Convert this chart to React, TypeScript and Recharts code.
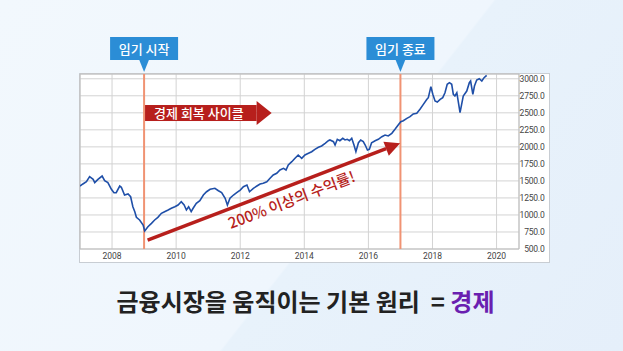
import {
  LineChart, Line, XAxis, YAxis, CartesianGrid, ReferenceLine, ReferenceArea,
} from 'recharts'

// fractional year / index level
const dates = [
  2007.0, 2007.09, 2007.2, 2007.3, 2007.41, 2007.46, 2007.56, 2007.69, 2007.77, 2007.87, 2007.98,
  2008.06, 2008.13, 2008.24, 2008.29, 2008.39, 2008.5, 2008.58, 2008.65, 2008.71, 2008.76, 2008.86, 2008.97,
  2009.02, 2009.12, 2009.23, 2009.33, 2009.43, 2009.54, 2009.64, 2009.75, 2009.85, 2009.96,
  2010.06, 2010.16, 2010.25, 2010.32, 2010.39, 2010.47, 2010.53, 2010.63, 2010.74, 2010.85, 2010.95,
  2011.06, 2011.21, 2011.32, 2011.42, 2011.53, 2011.6, 2011.68, 2011.79, 2011.89,
  2012.0, 2012.1, 2012.21, 2012.29, 2012.41, 2012.52, 2012.62, 2012.72, 2012.83, 2012.93,
  2013.03, 2013.14, 2013.24, 2013.35, 2013.43, 2013.5, 2013.61, 2013.71, 2013.81, 2013.92,
  2014.02, 2014.13, 2014.23, 2014.33, 2014.44, 2014.54, 2014.65, 2014.75, 2014.8, 2014.91, 2014.96,
  2015.03, 2015.11, 2015.2, 2015.27, 2015.34, 2015.41, 2015.48, 2015.55, 2015.61, 2015.69, 2015.76, 2015.84, 2015.9, 2015.97,
  2016.03, 2016.1, 2016.21, 2016.31, 2016.42, 2016.52, 2016.62, 2016.73, 2016.83, 2016.93,
  2017.01, 2017.09, 2017.2, 2017.3, 2017.4, 2017.51, 2017.61, 2017.71, 2017.82, 2017.87, 2017.95,
  2018.01, 2018.08, 2018.15, 2018.24, 2018.32, 2018.39, 2018.46, 2018.53, 2018.6, 2018.65, 2018.7, 2018.76, 2018.81, 2018.86, 2018.91, 2018.96,
  2019.07, 2019.15, 2019.19, 2019.26, 2019.31, 2019.38, 2019.46, 2019.54, 2019.61, 2019.69,
]
const spx = [
  1425, 1455, 1488, 1562, 1523, 1474, 1523, 1572, 1503, 1474, 1377,
  1327, 1327, 1425, 1406, 1293, 1308, 1268, 1121, 1048, 965, 926, 852,
  764, 827, 877, 926, 965, 1024, 1048, 1073, 1098, 1121,
  1146, 1195, 1146, 1073, 1121, 1048, 1098, 1171, 1209, 1293, 1341,
  1377, 1391, 1356, 1327, 1245, 1146, 1245, 1293, 1327,
  1366, 1415, 1440, 1341, 1391, 1425, 1455, 1465, 1488, 1538,
  1587, 1612, 1660, 1685, 1660, 1734, 1782, 1832, 1880, 1832,
  1880, 1905, 1929, 1964, 1994, 2013, 2052, 2090, 2101, 2076, 2027,
  2111, 2090, 2126, 2101, 2111, 2090, 2126, 2027, 1929, 2061, 2101, 2076, 2027, 1954,
  1964, 2061, 2090, 2111, 2149, 2174, 2160, 2199, 2258, 2321,
  2370, 2384, 2419, 2443, 2483, 2493, 2552, 2620, 2695, 2722, 2884,
  2772, 2674, 2659, 2698, 2722, 2795, 2919, 2942, 2919, 2772, 2747, 2795, 2649, 2502, 2625, 2747,
  2820, 2942, 2967, 2772, 2894, 2982, 3001, 2967, 3016, 3051,
]

const yearTicks = [2008, 2010, 2012, 2014, 2016, 2018, 2020]
const valueTicks = [500, 750, 1000, 1250, 1500, 1750, 2000, 2250, 2500, 2750, 3000]

const termStart = 2009.0
const termEnd = 2017.0
const startLabel = '임기 시작'
const endLabel = '임기 종료'
const cycleLabel = '경제 회복 사이클'
const returnLabel = '200% 이상의 수익률!'

const data = dates.map((d, i) => ({ d, v: spx[i] }))

const KR = '"Noto Sans CJK KR", "Noto Sans", sans-serif'
const RED = '#b71f1c'

const Callout = ({ viewBox, text }: any) => {
  const { x, y } = viewBox
  return (
    <g>
      <rect x={x - 34} y={y - 37} width={68} height={23} fill="#2b8dd6" />
      <polygon points={`${x - 5},${y - 14.5} ${x + 5},${y - 14.5} ${x},${y - 2}`} fill="#2b8dd6" />
      <text x={x} y={y - 25.5} fill="#fff" fontSize={13} fontFamily={KR} fontWeight={500}
        textAnchor="middle" dominantBaseline="central">{text}</text>
    </g>
  )
}

const CycleArrow = ({ x1, y1, x2 }: any) => {
  const head = 15
  return (
    <g>
      <rect x={x1} y={y1 - 8} width={x2 - x1 - head} height={16} fill={RED} />
      <polygon points={`${x2 - head},${y1 - 12} ${x2},${y1} ${x2 - head},${y1 + 12}`} fill={RED} />
      <text x={x1 + 9} y={y1 - 0.5} fill="#fff" fontSize={13} fontFamily={KR} fontWeight={500}
        dominantBaseline="central">{cycleLabel}</text>
    </g>
  )
}

const ReturnArrow = ({ x1, y1, x2, y2 }: any) => {
  const dx = x2 - x1
  const dy = y2 - y1
  const len = Math.sqrt(dx * dx + dy * dy)
  const ux = dx / len
  const uy = dy / len
  const head = 15
  const bx = x2 - ux * head
  const by = y2 - uy * head
  const nx = -uy
  const ny = ux
  const ang = (Math.atan2(dy, dx) * 180) / Math.PI
  const t = 0.55
  // label sits just below the arrow
  const tx = x1 + dx * t + nx * 13
  const ty = y1 + dy * t + ny * 13
  return (
    <g>
      <line x1={x1} y1={y1} x2={bx} y2={by} stroke={RED} strokeWidth={3.5} />
      <polygon points={`${x2},${y2} ${bx + nx * 7.5},${by + ny * 7.5} ${bx - nx * 7.5},${by - ny * 7.5}`} fill={RED} />
      <text x={tx} y={ty} fill={RED} fontSize={15} fontFamily={KR} fontWeight={500}
        textAnchor="middle" dominantBaseline="central" transform={`rotate(${ang} ${tx} ${ty})`}>
        {returnLabel}
      </text>
    </g>
  )
}

const ValueTick = ({ x, y, payload }: any) => (
  <text x={x + 25.5} y={y} dy={3} textAnchor="end" fill="#444" fontSize={8.5}
    fontFamily="Roboto, sans-serif" letterSpacing={-0.2}>
    {Number(payload.value).toFixed(1)}
  </text>
)

export default function App() {
  return (
    <div style={{
      position: 'absolute', left: 0, top: 0, width: 623, height: 351, overflow: 'hidden',
      background: 'linear-gradient(128deg, #f2f8fd 0%, #eff6fd 55%, #e8f2fb 55.3%, #e5effa 100%)',
      fontFamily: KR,
    }}>
      <div style={{
        position: 'absolute', left: 79, top: 73, width: 469, height: 188,
        background: '#fff', border: '1px solid #c8cdd3',
      }} />
      <div style={{ position: 'absolute', left: 0, top: 0 }}>
        <LineChart width={623} height={351} data={data}
          margin={{ top: 74, right: 74, bottom: 88, left: 80 }}>
          <CartesianGrid stroke="#d3d3d3" strokeWidth={1} />
          <ReferenceArea x1={2007} x2={2020.7} y1={500} y2={3070} fill="none"
            stroke="#bdbdbd" strokeWidth={1} ifOverflow="visible" />
          <XAxis dataKey="d" type="number" domain={[2007, 2020.7]} ticks={yearTicks}
            axisLine={false} tickLine={false} tickSize={0} tickMargin={4} height={14}
            tick={{ fontSize: 8.5, fill: '#444', fontFamily: 'Roboto, sans-serif' }}
            interval={0} allowDataOverflow />
          <YAxis orientation="right" type="number" domain={[500, 3070]} ticks={valueTicks}
            axisLine={false} tickLine={false} tickSize={0} tickMargin={0} width={30}
            tick={<ValueTick />} interval={0} allowDataOverflow />
          <ReferenceLine x={termStart} stroke="#f09373" strokeWidth={2}
            label={(p: any) => <Callout viewBox={p.viewBox} text={startLabel} />} />
          <ReferenceLine x={termEnd} stroke="#f09373" strokeWidth={2}
            label={(p: any) => <Callout viewBox={p.viewBox} text={endLabel} />} />
          <Line dataKey="v" stroke="#1f4fa8" strokeWidth={1.6} dot={false}
            isAnimationActive={false} />
          <ReferenceLine segment={[{ x: 2009.03, y: 2497 }, { x: 2012.98, y: 2497 }]}
            shape={(p: any) => <CycleArrow {...p} />} />
          <ReferenceLine segment={[{ x: 2009.11, y: 632 }, { x: 2016.99, y: 2052 }]}
            shape={(p: any) => <ReturnArrow {...p} />} />
        </LineChart>
      </div>
      <div style={{
        position: 'absolute', left: 0, top: 286, width: 611, textAlign: 'center',
        fontSize: 24, lineHeight: '30px', fontWeight: 700, color: '#222', whiteSpace: 'pre',
      }}>
        {'금융시장을 움직이는 기본 원리  = '}<span style={{ color: '#6a1fb0' }}>경제</span>
      </div>
    </div>
  )
}
